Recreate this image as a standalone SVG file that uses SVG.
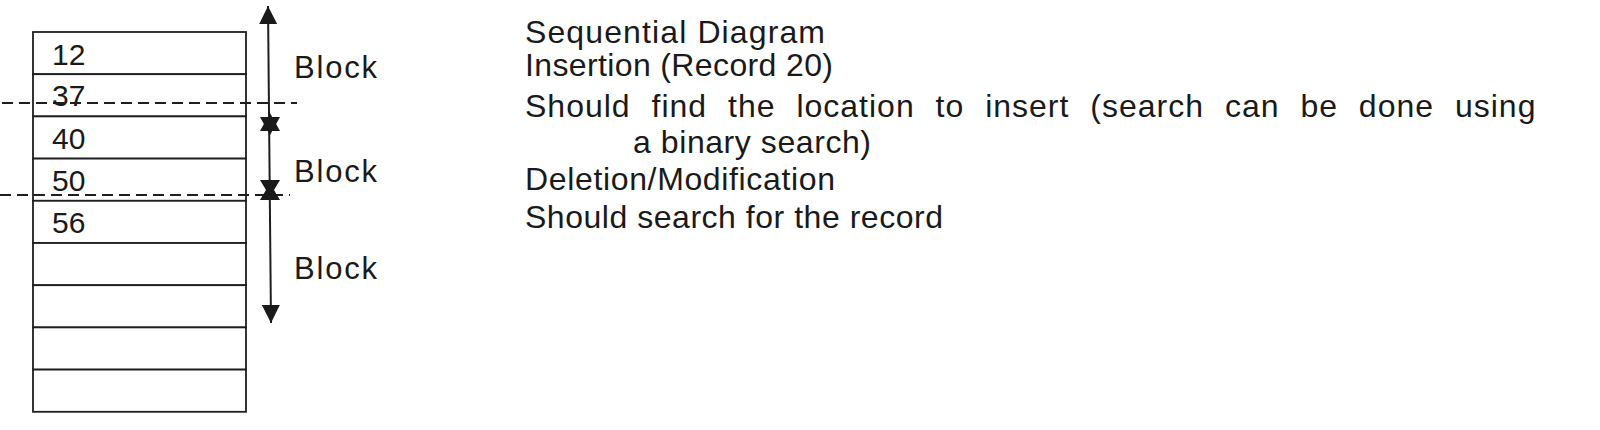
<svg xmlns="http://www.w3.org/2000/svg" width="1600" height="430" viewBox="0 0 1600 430">
  <defs>
    <style>
      .row { fill: #ffffff; stroke: #1e1e1e; stroke-width: 1.8; }
      .num { font-family: "Liberation Sans", Arial, sans-serif; font-size: 30px; fill: #1a1a1a; }
      .lbl { font-family: "Liberation Sans", Arial, sans-serif; font-size: 31px; fill: #1a1a1a; }
      .txt { font-family: "Liberation Sans", Arial, sans-serif; font-size: 32px; fill: #1a1a1a; }
      .dash { fill: none; stroke: #1e1e1e; stroke-width: 1.9; stroke-dasharray: 11 6; }
      .axis { fill: none; stroke: #1e1e1e; stroke-width: 2; }
      .mark { fill: #1a1a1a; stroke: none; }
    </style>
    <marker id="head" viewBox="0 0 18 18" refX="18" refY="9" markerWidth="18" markerHeight="19" markerUnits="userSpaceOnUse" orient="auto-start-reverse">
      <path d="M0,0 L18,9 L0,18 z" class="mark"/>
    </marker>
  </defs>
  <rect width="1600" height="430" fill="#ffffff"/>

  <g id="table">
    <g id="row-12"><rect class="row" x="33" y="32" width="213" height="42.2"/><text class="num" x="52" y="65">12</text></g>
    <g id="row-37"><rect class="row" x="33" y="74.2" width="213" height="42.2"/><text class="num" x="52" y="106">37</text></g>
    <g id="row-40"><rect class="row" x="33" y="116.4" width="213" height="42.2"/><text class="num" x="52" y="149">40</text></g>
    <g id="row-50"><rect class="row" x="33" y="158.6" width="213" height="42.2"/><text class="num" x="52" y="191">50</text></g>
    <g id="row-56"><rect class="row" x="33" y="200.8" width="213" height="42.2"/><text class="num" x="52" y="233">56</text></g>
    <g id="row-6"><rect class="row" x="33" y="243" width="213" height="42.2"/></g>
    <g id="row-7"><rect class="row" x="33" y="285.2" width="213" height="42.2"/></g>
    <g id="row-8"><rect class="row" x="33" y="327.4" width="213" height="42.2"/></g>
    <g id="row-9"><rect class="row" x="33" y="369.6" width="213" height="42.2"/></g>
  </g>

  <g id="boundaries">
    <line class="dash" x1="2" y1="103" x2="297" y2="103"/>
    <line class="dash" x1="0" y1="195" x2="290" y2="195"/>
  </g>

  <g id="connectors">
    <path class="axis" d="M268,6 L271,323" marker-start="url(#head)" marker-end="url(#head)"/>
    <polygon class="mark" points="270,113 280,131 260,131"/>
    <polygon class="mark" points="270,135 280,117 260,117"/>
    <polygon class="mark" points="260,180 280,180 274,190 280,200 260,200 266,190"/>
  </g>

  <g id="block-labels">
    <text class="lbl" x="294" y="78" textLength="83" lengthAdjust="spacing">Block</text>
    <text class="lbl" x="294" y="182" textLength="83" lengthAdjust="spacing">Block</text>
    <text class="lbl" x="294" y="279" textLength="83" lengthAdjust="spacing">Block</text>
  </g>

  <g id="notes">
    <text class="txt" x="525" y="43" textLength="300" lengthAdjust="spacing">Sequential Diagram</text>
    <text class="txt" x="525" y="76" textLength="308" lengthAdjust="spacing">Insertion (Record 20)</text>
    <text class="txt" x="525" y="117" letter-spacing="1" word-spacing="11">Should find the location to insert (search can be done using</text>
    <text class="txt" x="633" y="153" textLength="238" lengthAdjust="spacing">a binary search)</text>
    <text class="txt" x="525" y="190" textLength="310" lengthAdjust="spacing">Deletion/Modification</text>
    <text class="txt" x="525" y="228" textLength="418" lengthAdjust="spacing">Should search for the record</text>
  </g>
</svg>
